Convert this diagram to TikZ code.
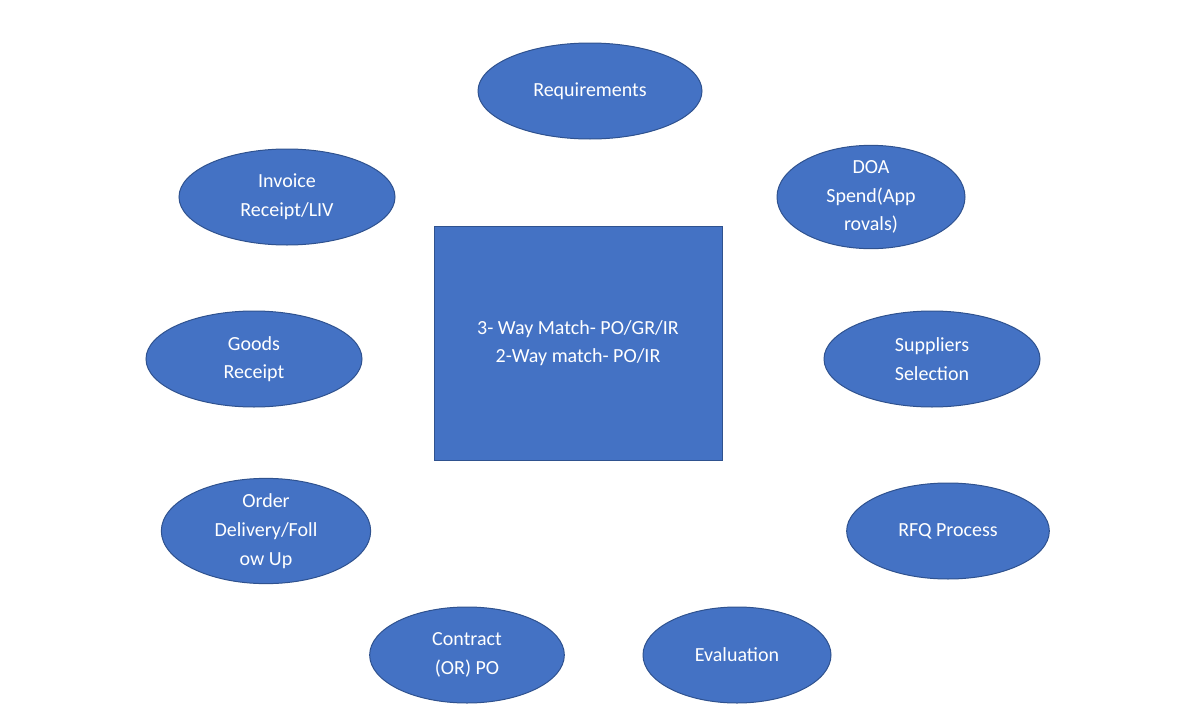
\documentclass[tikz,border=0pt]{standalone}
\usepackage{fontspec}
\setmainfont{Carlito}
\usetikzlibrary{shapes.geometric}
\definecolor{boxblue}{HTML}{4472C4}
\definecolor{edgeblue}{HTML}{2F528F}
\tikzset{every picture/.style={line width=0.75pt}}
\tikzset{
  stage/.style={ellipse, draw=edgeblue, fill=boxblue, text=white, align=center,
    inner sep=0pt, minimum height=72pt, font=\fontsize{15}{21.5}\selectfont},
  matchbox/.style={rectangle, draw=edgeblue, fill=boxblue, text=white, align=center,
    inner sep=0pt, minimum width=216pt, minimum height=175.5pt, font=\fontsize{15}{21.5}\selectfont}
}
\begin{document}
\begin{tikzpicture}[x=0.75pt,y=0.75pt,yscale=-1,xscale=1]
        \useasboundingbox (0,0) rectangle (1183,714);

        %Center box
        \node [matchbox] (match) at (578,343) {3- Way Match- PO/GR/IR\\2-Way match- PO/IR};

        %Process stages
        \node [stage, minimum width=168pt] (req) at (590,91) {Requirements};
        \node [stage, minimum width=141pt] (doa) at (871,197) {DOA\\Spend(App\\rovals)};
        \node [stage, minimum width=162pt] (sup) at (932,359) {Suppliers\\Selection};
        \node [stage, minimum width=152pt] (rfq) at (948,531) {RFQ Process};
        \node [stage, minimum width=141pt] (eval) at (737,655) {Evaluation};
        \node [stage, minimum width=146pt] (po) at (467,655) {Contract\\(OR) PO};
        \node [stage, minimum width=157pt] (order) at (266,531) {Order\\Delivery/Foll\\ow Up};
        \node [stage, minimum width=162pt] (gr) at (254,359) {Goods\\Receipt};
        \node [stage, minimum width=162pt] (ir) at (287,197) {Invoice\\Receipt/LIV};

\end{tikzpicture}
\end{document}
